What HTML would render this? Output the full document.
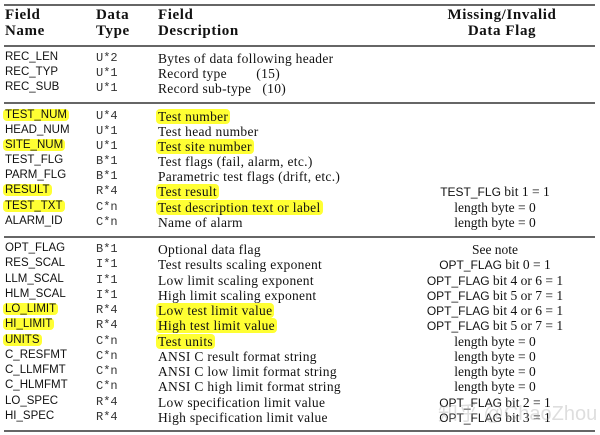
<!DOCTYPE html>
<html><head><meta charset="utf-8"><style>
body{margin:0;width:600px;height:435px;background:#fff;position:relative;overflow:hidden;color:#111}
.l{position:absolute;left:4px;width:591px;height:2px;background:#666}
.r{position:absolute;height:16px;line-height:16px;white-space:nowrap}
.n{left:5px;font:11.5px "Liberation Sans",sans-serif}
.t{left:96px;font:12px "Liberation Mono",monospace;color:#333}
.d{left:158px;font:13.5px "Liberation Serif",serif;letter-spacing:0.3px}
.f{left:395px;width:200px;text-align:center;font:13.5px "Liberation Serif",serif}
.f b{font:12px "Liberation Sans",sans-serif}
.h{position:absolute;font:bold 15px "Liberation Serif",serif;line-height:16px;letter-spacing:0.6px}
.y{background:#ffff33;border-radius:4px;padding:0 2px;margin-left:-2px}
</style></head><body>
<div class="l" style="top:4px"></div>
<div class="l" style="top:45px"></div>
<div class="l" style="top:102px"></div>
<div class="l" style="top:236px"></div>
<div class="l" style="top:430px"></div>
<div class="h" style="left:5px;top:7px">Field<br>Name</div>
<div class="h" style="left:96px;top:7px">Data<br>Type</div>
<div class="h" style="left:158px;top:7px">Field<br>Description</div>
<div class="h" style="left:398px;top:7px;width:208px;text-align:center">Missing/Invalid<br>Data Flag</div>

<div class="r n" style="top:51px">REC_LEN</div><div class="r t" style="top:51px">U*2</div><div class="r d" style="top:51px">Bytes of data following header</div>
<div class="r n" style="top:66px">REC_TYP</div><div class="r t" style="top:66px">U*1</div><div class="r d" style="top:66px">Record type &nbsp;&nbsp;&nbsp;&nbsp;&nbsp;&nbsp;&nbsp;(15)</div>
<div class="r n" style="top:81px">REC_SUB</div><div class="r t" style="top:81px">U*1</div><div class="r d" style="top:81px">Record sub-type &nbsp;&nbsp;(10)</div>

<div class="r n" style="top:109px"><span class="y">TEST_NUM</span></div><div class="r t" style="top:109px">U*4</div><div class="r d" style="top:109px"><span class="y">Test number</span></div>
<div class="r n" style="top:124px">HEAD_NUM</div><div class="r t" style="top:124px">U*1</div><div class="r d" style="top:124px">Test head number</div>
<div class="r n" style="top:139px"><span class="y">SITE_NUM</span></div><div class="r t" style="top:139px">U*1</div><div class="r d" style="top:139px"><span class="y">Test site number</span></div>
<div class="r n" style="top:154px">TEST_FLG</div><div class="r t" style="top:154px">B*1</div><div class="r d" style="top:154px">Test flags (fail, alarm, etc.)</div>
<div class="r n" style="top:169px">PARM_FLG</div><div class="r t" style="top:169px">B*1</div><div class="r d" style="top:169px">Parametric test flags (drift, etc.)</div>
<div class="r n" style="top:184px"><span class="y">RESULT</span></div><div class="r t" style="top:184px">R*4</div><div class="r d" style="top:184px"><span class="y">Test result</span></div><div class="r f" style="top:184px"><b>TEST_FLG</b> bit 1 = 1</div>
<div class="r n" style="top:200px"><span class="y">TEST_TXT</span></div><div class="r t" style="top:200px">C*n</div><div class="r d" style="top:200px"><span class="y">Test description text or label</span></div><div class="r f" style="top:200px">length byte = 0</div>
<div class="r n" style="top:215px">ALARM_ID</div><div class="r t" style="top:215px">C*n</div><div class="r d" style="top:215px">Name of alarm</div><div class="r f" style="top:215px">length byte = 0</div>

<div class="r n" style="top:242px">OPT_FLAG</div><div class="r t" style="top:242px">B*1</div><div class="r d" style="top:242px">Optional data flag</div><div class="r f" style="top:242px">See note</div>
<div class="r n" style="top:257px">RES_SCAL</div><div class="r t" style="top:257px">I*1</div><div class="r d" style="top:257px">Test results scaling exponent</div><div class="r f" style="top:257px"><b>OPT_FLAG</b> bit 0 = 1</div>
<div class="r n" style="top:273px">LLM_SCAL</div><div class="r t" style="top:273px">I*1</div><div class="r d" style="top:273px">Low limit scaling exponent</div><div class="r f" style="top:273px"><b>OPT_FLAG</b> bit 4 or 6 = 1</div>
<div class="r n" style="top:288px">HLM_SCAL</div><div class="r t" style="top:288px">I*1</div><div class="r d" style="top:288px">High limit scaling exponent</div><div class="r f" style="top:288px"><b>OPT_FLAG</b> bit 5 or 7 = 1</div>
<div class="r n" style="top:303px"><span class="y">LO_LIMIT</span></div><div class="r t" style="top:303px">R*4</div><div class="r d" style="top:303px"><span class="y">Low test limit value</span></div><div class="r f" style="top:303px"><b>OPT_FLAG</b> bit 4 or 6 = 1</div>
<div class="r n" style="top:318px"><span class="y">HI_LIMIT</span></div><div class="r t" style="top:318px">R*4</div><div class="r d" style="top:318px"><span class="y">High test limit value</span></div><div class="r f" style="top:318px"><b>OPT_FLAG</b> bit 5 or 7 = 1</div>
<div class="r n" style="top:334px"><span class="y">UNITS</span></div><div class="r t" style="top:334px">C*n</div><div class="r d" style="top:334px"><span class="y">Test units</span></div><div class="r f" style="top:334px">length byte = 0</div>
<div class="r n" style="top:349px">C_RESFMT</div><div class="r t" style="top:349px">C*n</div><div class="r d" style="top:349px">ANSI C result format string</div><div class="r f" style="top:349px">length byte = 0</div>
<div class="r n" style="top:364px">C_LLMFMT</div><div class="r t" style="top:364px">C*n</div><div class="r d" style="top:364px">ANSI C low limit format string</div><div class="r f" style="top:364px">length byte = 0</div>
<div class="r n" style="top:379px">C_HLMFMT</div><div class="r t" style="top:379px">C*n</div><div class="r d" style="top:379px">ANSI C high limit format string</div><div class="r f" style="top:379px">length byte = 0</div>
<div class="r n" style="top:395px">LO_SPEC</div><div class="r t" style="top:395px">R*4</div><div class="r d" style="top:395px">Low specification limit value</div><div class="r f" style="top:395px"><b>OPT_FLAG</b> bit 2 = 1</div>
<div class="r n" style="top:410px">HI_SPEC</div><div class="r t" style="top:410px">R*4</div><div class="r d" style="top:410px">High specification limit value</div><div class="r f" style="top:410px"><b>OPT_FLAG</b> bit 3 = 1</div>
<div style="position:absolute;left:438px;top:397px;font:20px 'Liberation Sans','Noto Sans CJK SC',sans-serif;color:rgba(160,160,160,0.35)">知乎 @ChaoZhou</div>
</body></html>
